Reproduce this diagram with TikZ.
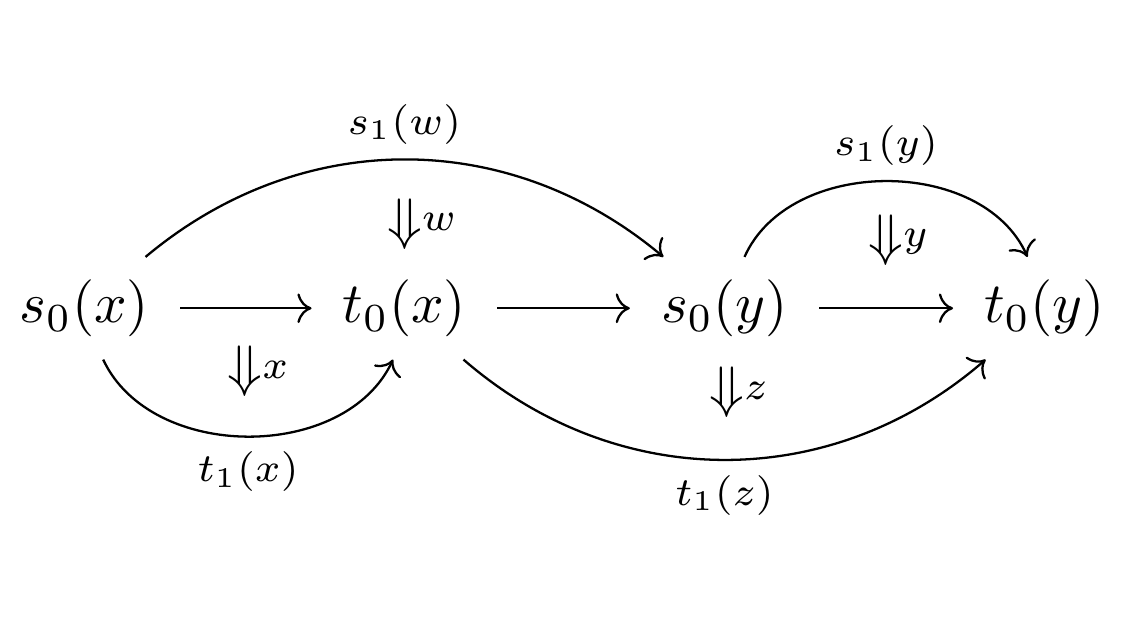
\documentclass[tikz,border=0pt]{standalone}
\usetikzlibrary{cd}
\def\dcell#1{\mathord{\Downarrow}\rlap{\raisebox{1.3pt}{$\scriptstyle #1$}}}
\begin{document}
\begin{tikzpicture}[>={cm to},
	obj/.style={inner xsep=5.3pt, inner ysep=3.8pt},
	lbl/.style={font=\scriptsize, inner sep=2.5pt},
	cell/.style={inner sep=0pt}]
				%%%%% START %%%%%
				\def\yrow{1.96}
				\def\xa{0.52}
				\def\dx{1.973}
				
				\useasboundingbox (0,0) rectangle (6.99,3.86);
				
				\node[obj] (sx) at (\xa,\yrow) {$s_0(x)$};
				\node[obj] (tx) at (\xa+\dx,\yrow) {$t_0(x)$};
				\node[obj] (sy) at (\xa+2*\dx,\yrow) {$s_0(y)$};
				\node[obj] (ty) at (\xa+3*\dx,\yrow) {$t_0(y)$};
				
				\draw[->] (sx) -- (tx);
				\draw[->] (tx) -- (sy);
				\draw[->] (sy) -- (ty);
				
				\draw[->] (sx) to[out=40,in=140] node[lbl,above] (lsw) {$s_1(w)$} (sy);
				\draw[->] ([xshift=3.3pt]sx.south) to[out=-65,in=-115] node[lbl,below] (ltx) {$t_1(x)$} ([xshift=-2pt]tx.south);
				\draw[->] ([xshift=3.5pt]sy.north) to[out=66,in=114] node[lbl,above] (lsy) {$s_1(y)$} ([xshift=-3pt]ty.north);
				\draw[->] (tx) to[out=-41,in=-139] node[lbl,below] (ltz) {$t_1(z)$} (ty);
				
				\node[cell] (cw) at (\xa+\dx,2.48) {$\dcell{w}$};
				\node[cell] (cy) at (5.46,2.38) {$\dcell{y}$};
				\node[cell] (cx) at (1.51,1.57) {$\dcell{x}$};
				\node[cell] (cz) at (4.48,1.44) {$\dcell{z}$};
				%%%%% END %%%%%
\end{tikzpicture}
\end{document}
